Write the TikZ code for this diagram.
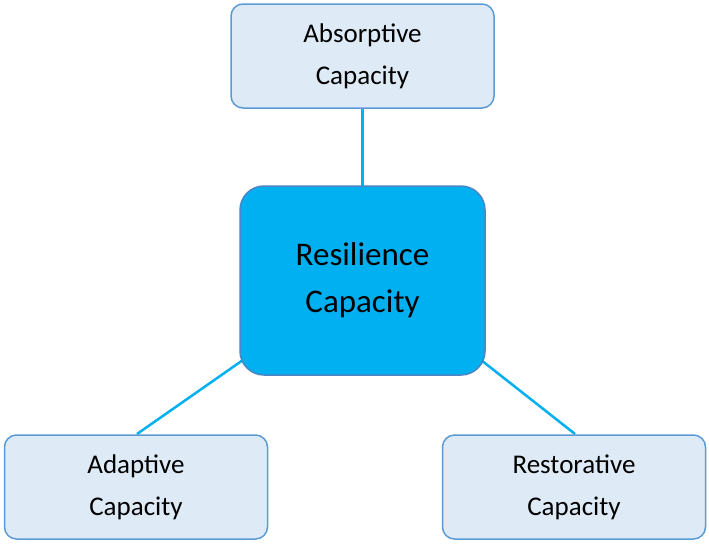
\documentclass[tikz,border=0pt]{standalone}
\usepackage{fontspec}
\setmainfont{Carlito}
\definecolor{lightbox}{HTML}{DEEBF7}
\definecolor{boxedge}{HTML}{5B9BD5}
\definecolor{cyanfill}{HTML}{00B0F0}
\definecolor{cyanedge}{HTML}{4A86C5}
\begin{document}
\begin{tikzpicture}[x=1pt,y=-1pt,
  small/.style={draw=boxedge,line width=1.5pt,fill=lightbox,rounded corners=12pt,minimum width=263pt,minimum height=104pt,align=center,font=\fontsize{27}{42}\selectfont,inner sep=0pt},
  big/.style={draw=cyanedge,line width=1.5pt,fill=cyanfill,rounded corners=24pt,minimum width=245pt,minimum height=189pt,align=center,font=\fontsize{33}{47}\selectfont,inner sep=0pt},
  link/.style={draw=cyanfill,line width=2.5pt}]
\useasboundingbox (0,0) rectangle (709,544);
\coordinate (cl) at (243,360);
\coordinate (cr) at (481,360);
\draw[link] (362.5,108) -- (362.5,186);
\draw[link] (cl) -- (137,434);
\draw[link] (cr) -- (575,434);
\node[small] (abs) at (362.5,56) {Absorptive\\Capacity};
\node[big] (res) at (362.5,280.5) {Resilience\\Capacity};
\node[small] (ada) at (136,487) {Adaptive\\Capacity};
\node[small] (rest) at (574,487) {Restorative\\Capacity};
\end{tikzpicture}
\end{document}
